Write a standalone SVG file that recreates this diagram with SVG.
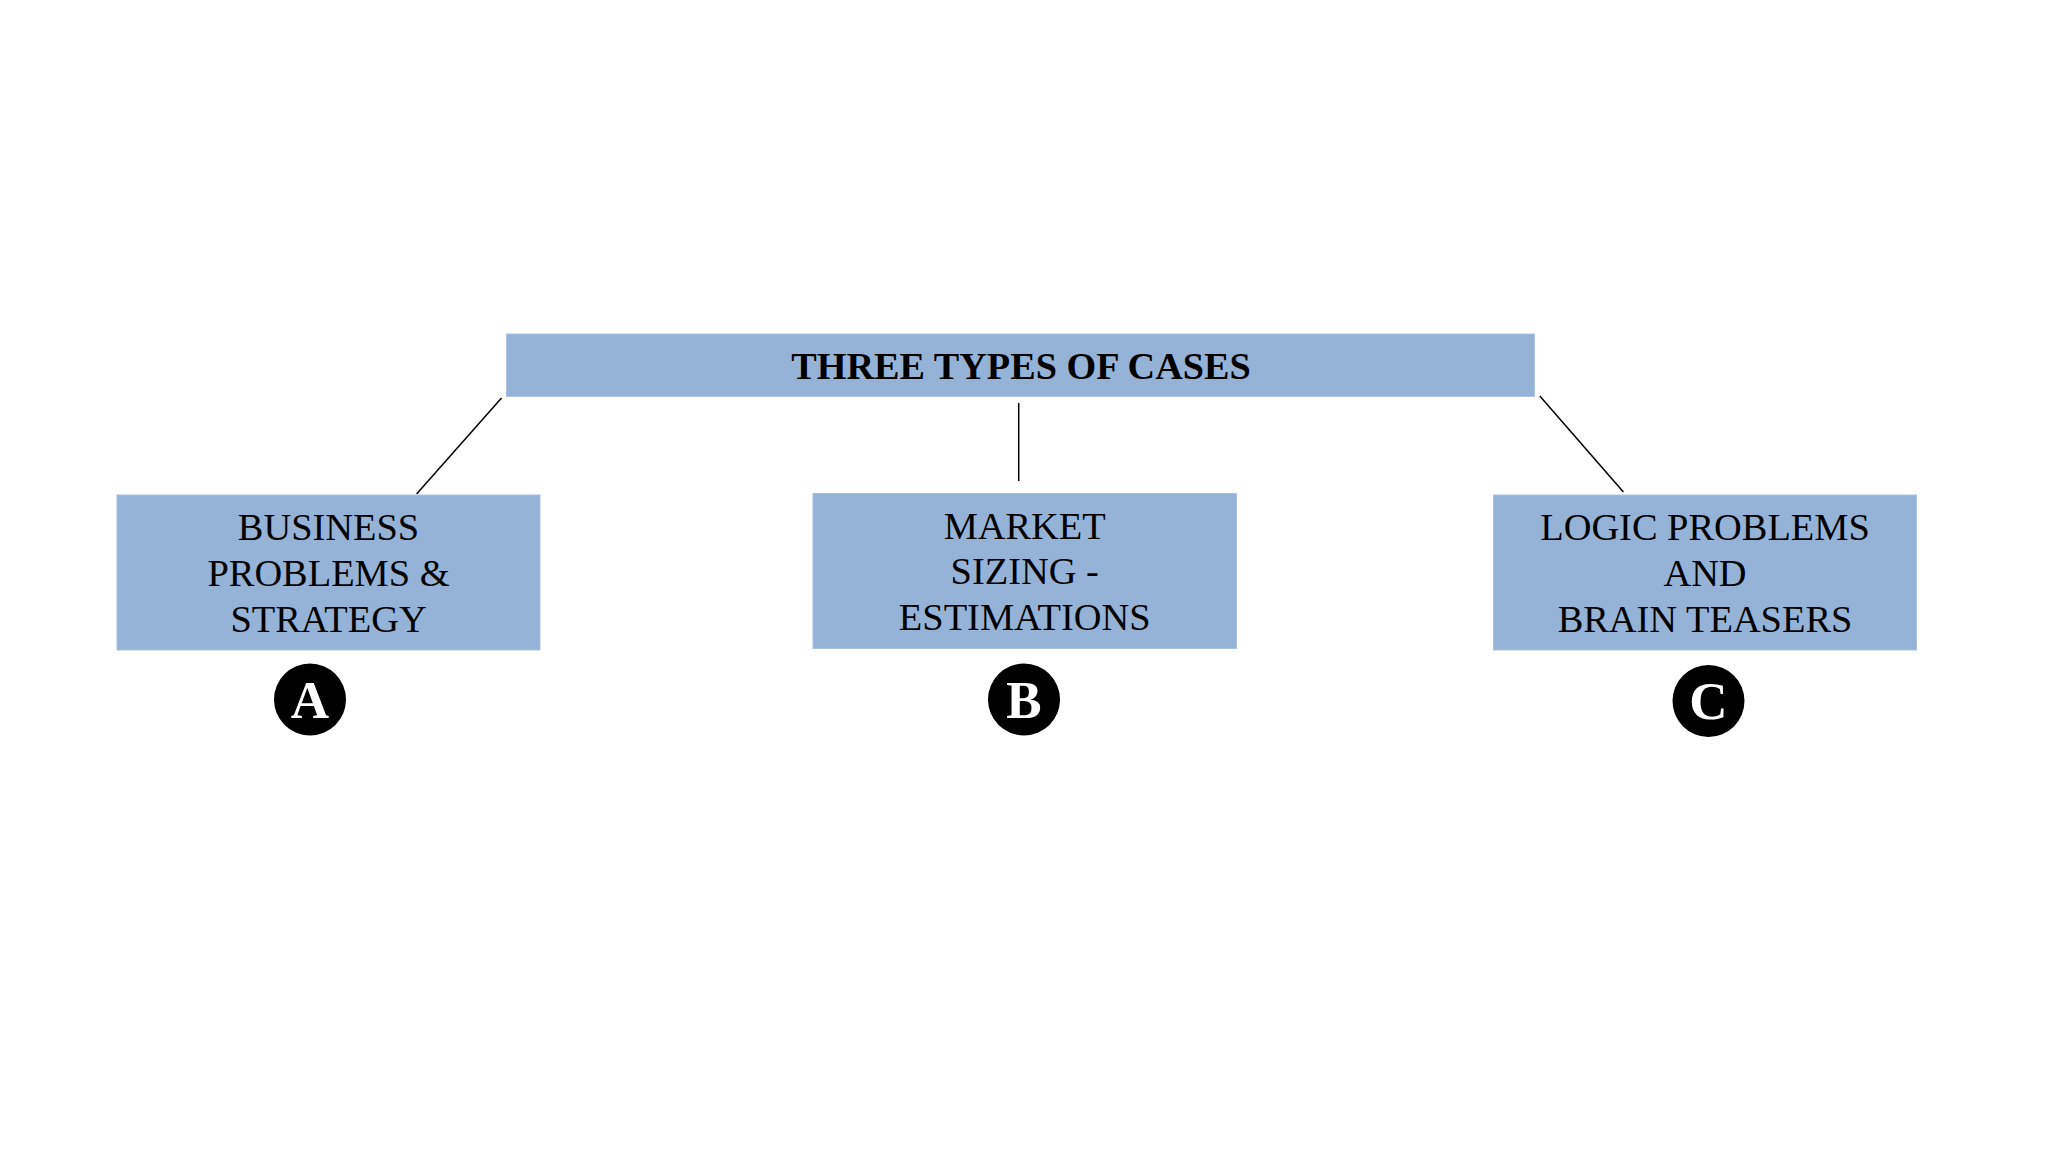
<svg xmlns="http://www.w3.org/2000/svg" width="2048" height="1152" viewBox="0 0 2048 1152">
<style>
.box{fill:#95B3D7;stroke:#A9C2E0;stroke-width:1}
.lbl{font-family:"Liberation Serif","Times New Roman",serif;font-size:38.4px;fill:#000;text-anchor:middle}
.ttl{font-family:"Liberation Serif","Times New Roman",serif;font-size:38.2px;font-weight:bold;fill:#000;text-anchor:middle}
.badge{fill:#000}
.bl{font-family:"Liberation Serif","Times New Roman",serif;font-size:53px;font-weight:bold;fill:#fff;text-anchor:middle}
.con{stroke:#000;stroke-width:1.5;fill:none}
</style>
<rect width="2048" height="1152" fill="#fff"/>
<g id="connectors">
<line class="con" x1="501.5" y1="398" x2="416.6" y2="494"/>
<line class="con" x1="1018.7" y1="403" x2="1018.7" y2="481"/>
<line class="con" x1="1539.8" y1="396" x2="1623.4" y2="492"/>
</g>
<g id="title">
<rect class="box" x="506.5" y="334" width="1028" height="62.5"/>
<text class="ttl" x="1021" y="379">THREE TYPES OF CASES</text>
</g>
<g id="nodeA">
<rect class="box" x="117" y="495" width="423" height="155"/>
<text class="lbl" x="328.5" y="540">BUSINESS</text>
<text class="lbl" x="328.5" y="586">PROBLEMS &amp;</text>
<text class="lbl" x="328.5" y="631.5">STRATEGY</text>
</g>
<g id="nodeB">
<rect class="box" x="813" y="493.5" width="423.5" height="155"/>
<text class="lbl" x="1024.7" y="538.5">MARKET</text>
<text class="lbl" x="1024.7" y="584">SIZING -</text>
<text class="lbl" x="1024.7" y="630">ESTIMATIONS</text>
</g>
<g id="nodeC">
<rect class="box" x="1493.5" y="495" width="423" height="155"/>
<text class="lbl" x="1705" y="540">LOGIC PROBLEMS</text>
<text class="lbl" x="1705" y="586">AND</text>
<text class="lbl" x="1705" y="631.5">BRAIN TEASERS</text>
</g>
<g id="badgeA">
<circle class="badge" cx="310" cy="699.5" r="36"/>
<text class="bl" x="310" y="717.5">A</text>
</g>
<g id="badgeB">
<circle class="badge" cx="1024" cy="699.5" r="36"/>
<text class="bl" x="1024" y="717.5">B</text>
</g>
<g id="badgeC">
<circle class="badge" cx="1708.5" cy="701" r="36"/>
<text class="bl" x="1708.5" y="719">C</text>
</g>
</svg>
